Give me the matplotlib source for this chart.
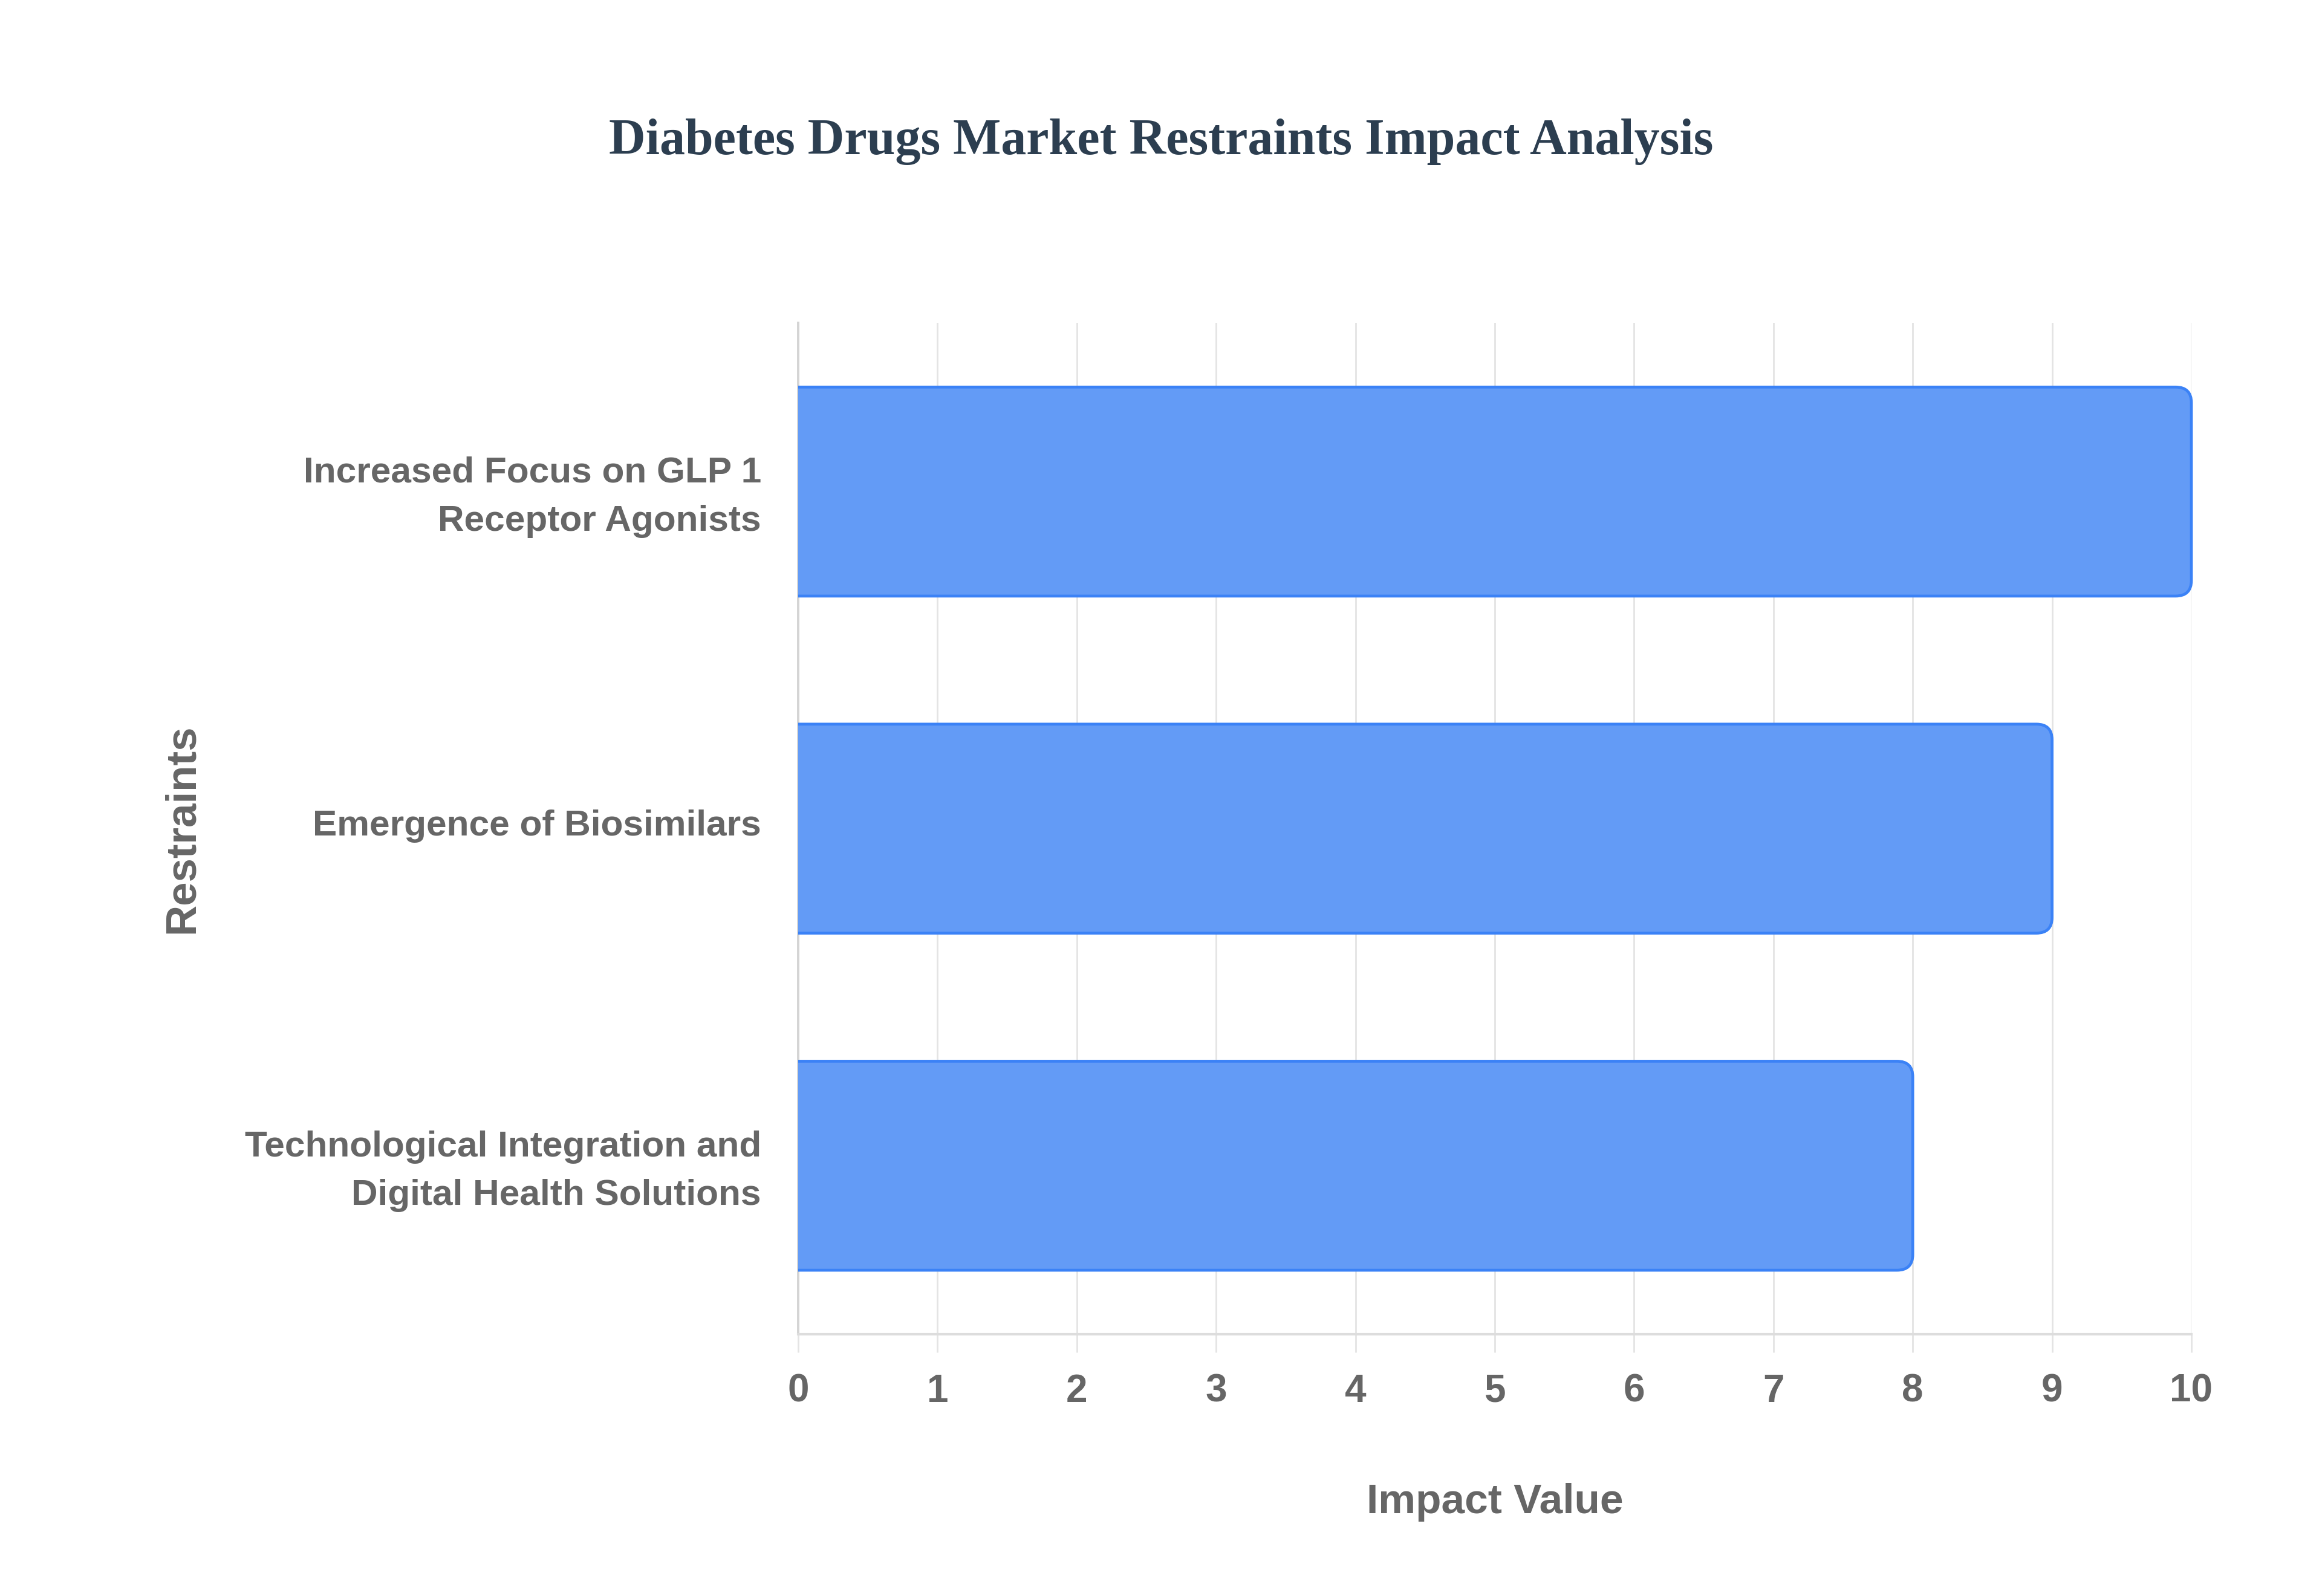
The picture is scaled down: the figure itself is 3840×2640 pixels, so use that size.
import matplotlib
matplotlib.use("Agg")
import matplotlib.pyplot as plt
import matplotlib.transforms as mtransforms
from matplotlib.path import Path
from matplotlib.patches import PathPatch

# -----------------------------
# DATA
# -----------------------------
restraints = [
    "Increased Focus on GLP 1\nReceptor Agonists",
    "Emergence of Biosimilars",
    "Technological Integration and\nDigital Health Solutions",
]
impact = [10, 9, 8]
x_ticks = list(range(0, 11))

TITLE = "Diabetes Drugs Market Restraints Impact Analysis"
FILL = "#639bf6"
EDGE = "#3b82f6"
GRID = "#e4e4e4"
TEXT = "#666666"
SANS = ["Liberation Sans", "DejaVu Sans"]

fig = plt.figure(figsize=(38.4, 26.4), dpi=100)
ax = fig.add_axes([0.34375, 0.164, 0.6, 0.6336])

ypos = list(range(len(restraints)))[::-1]
bars = ax.barh(ypos, impact, height=0.62, color="none", edgecolor="none")

ax.set_xlim(0, 10)
ax.set_ylim(-0.5, 2.5)

# -----------------------------
# rounded right end, no border on the left side
# -----------------------------
fig.canvas.draw()
px_x = ax.transData.transform((1, 0))[0] - ax.transData.transform((0, 0))[0]
px_y = ax.transData.transform((0, 1))[1] - ax.transData.transform((0, 0))[1]
r_px = 26
rx, ry = r_px / px_x, r_px / px_y

for b in bars:
    x0, y0 = b.get_x(), b.get_y()
    x1, y1 = x0 + b.get_width(), y0 + b.get_height()
    verts = [(x0, y0), (x1 - rx, y0), (x1, y0), (x1, y0 + ry),
             (x1, y1 - ry), (x1, y1), (x1 - rx, y1), (x0, y1)]
    codes = [Path.MOVETO, Path.LINETO, Path.CURVE3, Path.CURVE3,
             Path.LINETO, Path.CURVE3, Path.CURVE3, Path.LINETO]
    ax.add_patch(PathPatch(Path(verts + [(x0, y0)], codes + [Path.CLOSEPOLY]),
                           facecolor=FILL, edgecolor="none", zorder=3))
    ax.add_patch(PathPatch(Path(verts, codes), facecolor="none",
                           edgecolor=EDGE, lw=3.4, zorder=4, clip_on=False))

# -----------------------------
# axes styling
# -----------------------------
ax.set_xticks(x_ticks)
ax.set_yticks(ypos)
ax.set_yticklabels(restraints)
ax.grid(axis="x", color=GRID, lw=2.0, zorder=0)
ax.set_axisbelow(True)

for s in ["top", "right"]:
    ax.spines[s].set_visible(False)
ax.spines["left"].set_color("#d4d4d4")
ax.spines["left"].set_linewidth(2.8)
ax.spines["bottom"].set_color("#dddddd")
ax.spines["bottom"].set_linewidth(3.0)

ax.tick_params(axis="x", length=21.6, width=2.0, color=GRID, pad=25, labelsize=46, labelcolor=TEXT)
ax.tick_params(axis="y", length=0, pad=44, labelsize=43.5, labelcolor=TEXT)
for lab in ax.get_xticklabels() + ax.get_yticklabels():
    lab.set_fontfamily(SANS)
    lab.set_fontweight("bold")
lift = mtransforms.ScaledTranslation(0, 7 / 72, fig.dpi_scale_trans)
for lab in ax.get_yticklabels():
    lab.set_linespacing(1.6)
    lab.set_transform(lab.get_transform() + lift)

ax.set_xlabel("Impact Value", fontsize=50, fontweight="bold", color=TEXT, family=SANS, va="center")
ax.xaxis.set_label_coords(0.5, -0.166)
ax.set_ylabel("Restraints", fontsize=51, fontweight="bold", color=TEXT, family=SANS, va="center")
ax.yaxis.set_label_coords(-0.442, 0.5)

fig.text(0.5, 1 - 255 / 2640, TITLE, ha="center", va="baseline", fontsize=60.5,
         fontweight="bold", color="#2c3e50", family=["Liberation Serif", "DejaVu Serif"])

fig.savefig("out.png", dpi=100, facecolor="white")
